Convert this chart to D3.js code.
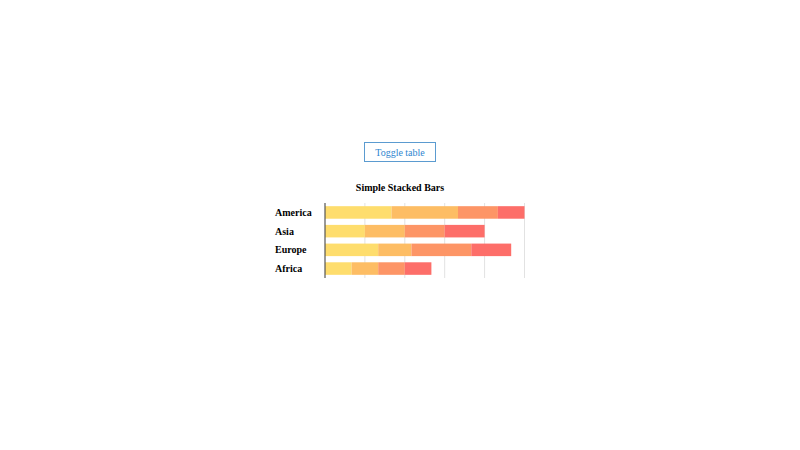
<!DOCTYPE html>
<html>
<head>
<meta charset="utf-8">
<script src="https://cdn.jsdelivr.net/npm/d3@7"></script>
<style>
  body { margin: 0; font-family: "Liberation Serif", "DejaVu Serif", serif; background: #fff; }
  #wrap { position: relative; width: 800px; height: 450px; }
  #toggle {
    position: absolute; left: 364px; top: 142px; width: 72px; height: 20px;
    font-family: "Liberation Serif", serif; font-size: 10px; color: #2f86cf;
    background: #fff; border: 1px solid #5b9bd0; padding: 0; cursor: pointer;
    -webkit-appearance: none; appearance: none;
  }
  .grid line { stroke: #e2e2e2; }
  .label { font-weight: bold; font-size: 10px; }
</style>
</head>
<body>
<div id="wrap"></div>
<script>
const regions = ["America", "Asia", "Europe", "Africa"];
const seriesKeys = ["s1", "s2", "s3", "s4"];
const s1 = [10, 6, 8, 4];
const s2 = [10, 6, 5, 4];
const s3 = [6, 6, 9, 4];
const s4 = [4, 6, 6, 4];
const gridTicks = [0, 6, 12, 18, 24, 30];
const colors = ["#fedd6d", "#fdbd64", "#fd9566", "#fd6e69"];

const rows = regions.map((r, i) => ({ region: r, s1: s1[i], s2: s2[i], s3: s3[i], s4: s4[i] }));

const wrap = d3.select("#wrap");
wrap.append("button").attr("id", "toggle").text("Toggle table");

const svg = wrap.append("svg")
    .attr("width", 800)
    .attr("height", 450);

const xScale = d3.scaleLinear().domain([0, 30]).range([325, 524.5]);
const yScale = d3.scaleBand().domain(regions).range([203, 278])
    .paddingInner(0.33).paddingOuter(0.17);

svg.append("text")
    .attr("x", 400)
    .attr("y", 190.5)
    .attr("text-anchor", "middle")
    .attr("font-weight", "bold")
    .attr("font-size", 10)
    .text("Simple Stacked Bars");

// gridlines
svg.append("g")
    .attr("class", "grid")
    .selectAll("line")
    .data(gridTicks.slice(1))
    .join("line")
    .attr("x1", d => xScale(d))
    .attr("x2", d => xScale(d))
    .attr("y1", 203)
    .attr("y2", 278);

const stack = d3.stack().keys(seriesKeys)(rows);

svg.append("g")
    .selectAll("g")
    .data(stack)
    .join("g")
    .attr("fill", (d, i) => colors[i])
    .selectAll("rect")
    .data(d => d)
    .join("rect")
    .attr("x", d => xScale(d[0]))
    .attr("y", d => yScale(d.data.region))
    .attr("width", d => xScale(d[1]) - xScale(d[0]))
    .attr("height", yScale.bandwidth());

// axis line
svg.append("line")
    .attr("x1", xScale(0))
    .attr("x2", xScale(0))
    .attr("y1", 203)
    .attr("y2", 278)
    .attr("stroke", "#555")
    .attr("stroke-width", 1.2);

svg.selectAll(".label")
    .data(regions)
    .join("text")
    .attr("class", "label")
    .attr("x", 275)
    .attr("y", d => yScale(d) + yScale.bandwidth() / 2)
    .attr("dy", "0.35em")
    .text(d => d);
</script>
</body>
</html>
